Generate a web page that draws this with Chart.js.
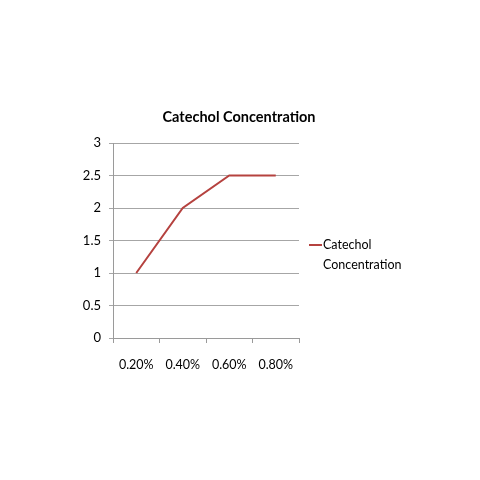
<!DOCTYPE html>
<html>
<head>
<meta charset="utf-8">
<script src="https://cdn.jsdelivr.net/npm/chart.js@4"></script>
<style>
  html, body { margin: 0; padding: 0; background: #fff; }
  #wrap { width: 480px; height: 480px; }
</style>
</head>
<body>
<div id="wrap"><canvas id="chart-catechol"></canvas></div>
<script>
const concentrations = ['0.20%', '0.40%', '0.60%', '0.80%'];
const catecholValues = [1, 2, 2.5, 2.5];
const seriesLabel = ['Catechol', 'Concentration'];
const chartTitle = 'Catechol Concentration';

Chart.defaults.font.family = 'Lato, "Open Sans", sans-serif';
Chart.defaults.color = '#000';

// title and legend drawn by hand: the title sits over the whole picture
// and the legend label wraps on two lines like the original
const sideLegend = {
    id: 'sideLegend',
    afterDraw(chart) {
        const ctx = chart.ctx;
        const ds = chart.data.datasets[0];
        ctx.save();
        ctx.fillStyle = '#000';
        ctx.font = 'bold 14.5px Lato, "Open Sans", sans-serif';
        ctx.textAlign = 'center';
        ctx.textBaseline = 'middle';
        ctx.fillText(chartTitle, 239, 117);

        const x = 309, y = 245;
        ctx.strokeStyle = ds.borderColor;
        ctx.lineWidth = 2;
        ctx.beginPath();
        ctx.moveTo(x, y);
        ctx.lineTo(x + 13, y);
        ctx.stroke();
        ctx.font = '12.5px Lato, "Open Sans", sans-serif';
        ctx.textAlign = 'left';
        ds.label.forEach((line, i) => ctx.fillText(line, x + 14, y + i * 20));
        ctx.restore();
    }
};

const data = {
    labels: concentrations,
    datasets: [{
        label: seriesLabel,
        data: catecholValues,
        borderColor: '#b5423f',
        borderWidth: 2,
        pointRadius: 0,
        tension: 0
    }]
};

const options = {
    responsive: false,
    animation: false,
    layout: {
        padding: { left: 0, top: 143, right: 181, bottom: 102 }
    },
    plugins: {
        legend: { display: false },
        tooltip: { enabled: false },
        title: { display: false }
    },
    scales: {
        x: {
            offset: true,
            grid: {
                offset: true,
                drawOnChartArea: false,
                drawTicks: true,
                tickLength: 5,
                color: '#9a9a9a'
            },
            border: { color: '#9a9a9a' },
            ticks: { font: { size: 12.5 }, padding: 14, maxRotation: 0 },
            afterFit(scale) { scale.height = 40; }
        },
        y: {
            min: 0,
            max: 3,
            ticks: {
                stepSize: 0.5,
                font: { size: 13 },
                padding: 8,
                callback: value => String(Number(value))
            },
            grid: { color: '#a6a6a6', tickLength: 4 },
            border: { color: '#9a9a9a' },
            afterFit(scale) { scale.width = 113; }
        }
    }
};

const canvas = document.getElementById('chart-catechol');
canvas.width = 480;
canvas.height = 480;
new Chart(canvas, { type: 'line', data, options, plugins: [sideLegend] });
</script>
</body>
</html>
